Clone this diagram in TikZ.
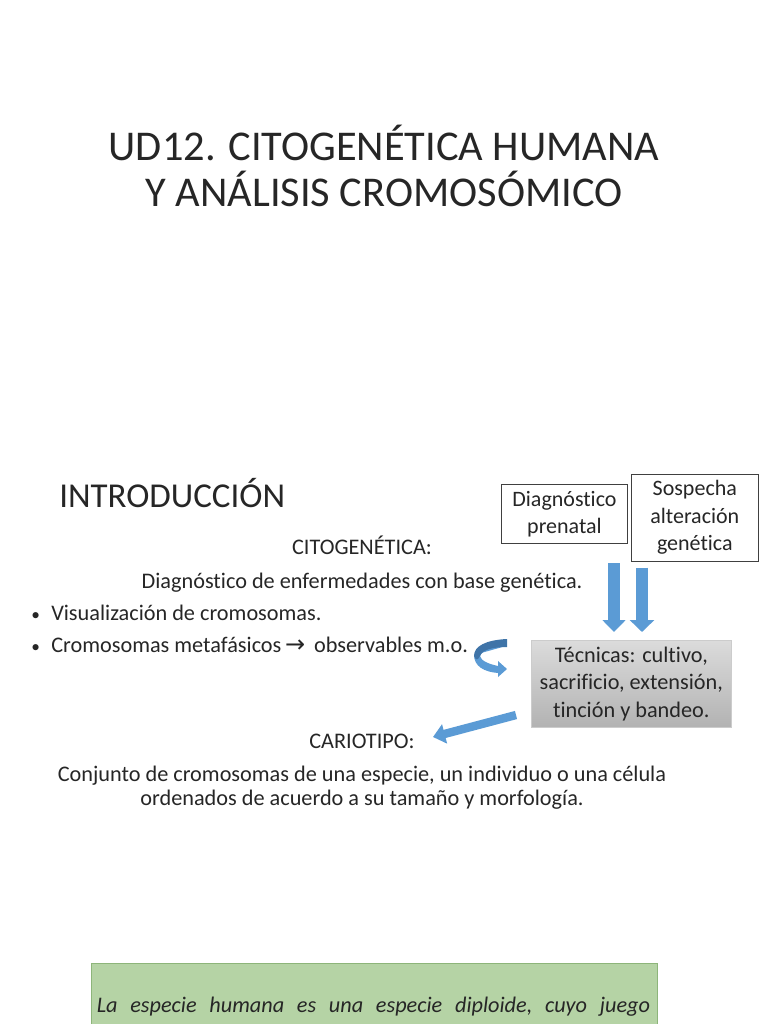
\documentclass[tikz,border=0pt]{standalone}
\usepackage{fontspec}
\setmainfont[Ligatures=NoCommon]{Carlito}
\usetikzlibrary{arrows.meta}
\definecolor{ink}{HTML}{262626}
\definecolor{bluearrow}{HTML}{5B9BD5}
\definecolor{bluedark}{HTML}{3F74A8}
\definecolor{greenbox}{HTML}{B5D3A5}
\definecolor{greenedge}{HTML}{8DB57A}
\tikzset{
  title/.style={font=\fontsize{31.8pt}{35pt}\selectfont,text=ink,align=center,inner sep=0pt},
  heading/.style={font=\fontsize{26.2pt}{30pt}\selectfont,text=ink,inner sep=0pt,anchor=base west},
  body/.style={font=\fontsize{16.7pt}{18pt}\selectfont,text=ink,inner sep=0pt,anchor=base},
  bodyleft/.style={body,anchor=base west},
  boxed/.style={draw=black!75,line width=0.7pt,fill=white,font=\fontsize{16.5pt}{20.6pt}\selectfont,text=ink,align=center,inner sep=0pt,anchor=north west},
  graybox/.style={draw=black!20,line width=0.5pt,top color=black!14,bottom color=black!30,font=\fontsize{16.7pt}{20.6pt}\selectfont,text=ink,align=center,inner sep=0pt,anchor=north west},
  blockarrow/.style={draw=bluearrow,line width=9pt,-{Triangle[width=18pt,length=9pt]}},
}
\begin{document}
\begin{tikzpicture}[x=0.75pt,y=-0.75pt]
\useasboundingbox (0,0) rectangle (768,1024);
\node[title] (t) at (384,166) {UD12. CITOGENÉTICA HUMANA\\Y ANÁLISIS CROMOSÓMICO};
\node[heading] (intro) at (59,507) {INTRODUCCIÓN};
\node[body] (cito) at (362,554) {CITOGENÉTICA:};
\node[body] (diag) at (362,588) {Diagnóstico de enfermedades con base genética.};
\node[bodyleft,font=\fontsize{13pt}{18pt}\selectfont] (b1) at (31,620) {•};
\node[bodyleft] (v) at (51,620) {Visualización de cromosomas.};
\node[bodyleft,font=\fontsize{13pt}{18pt}\selectfont] (b2) at (31,652) {•};
\node[bodyleft] (c) at (51,652) {Cromosomas metafásicos\,{\fontspec{DejaVu Sans}\fontsize{18pt}{18pt}\selectfont→}\, observables m.o.};
\node[body] (cario) at (362,748) {CARIOTIPO:};
\node[body] (conj) at (362,781) {Conjunto de cromosomas de una especie, un individuo o una célula};
\node[body] (ord) at (362,805) {ordenados de acuerdo a su tamaño y morfología.};
\node[boxed,minimum width=94.5pt,minimum height=44.5pt] (dp) at (501,484) {Diagnóstico\\prenatal};
\node[boxed,minimum width=95pt,minimum height=65.5pt] (sos) at (631,473.5) {Sospecha\\alteración\\genética};
\node[graybox,minimum width=150pt,minimum height=65pt] (tec) at (531,640) {Técnicas: cultivo,\\sacrificio, extensión,\\tinción y bandeo.};
\coordinate (a1s) at (614,563); \coordinate (a1e) at (614,632);
\coordinate (a2s) at (642,567.5); \coordinate (a2e) at (642,632);
\coordinate (a3s) at (516,715); \coordinate (a3e) at (433,737);
\draw[blockarrow,-{Triangle[width=17pt,length=9pt]}] (a1s) -- (a1e);
\draw[blockarrow] (a2s) -- (a2e);
\draw[blockarrow,line width=6.3pt,-{Triangle[width=14.5pt,length=9pt]}] (a3s) -- (a3e);
\fill[bluearrow] (506,646) .. controls (490,647) and (481,650) .. (480,656) .. controls (481,661) and (489,664) .. (498,666) -- (498,661) -- (507,669) -- (498,677) -- (498,673) .. controls (484,672) and (474,666) .. (474,655) -- cycle;
\fill[bluedark] (507,639) .. controls (486,640) and (474,646) .. (474,656) .. controls (476,661) and (478,660) .. (480,656) .. controls (482,650) and (492,647) .. (507,647) -- cycle;
\begin{scope}
\clip (0,0) rectangle (768,1024);
\node[draw=greenedge,fill=greenbox,line width=0.5pt,minimum width=424.5pt,minimum height=80pt,anchor=north west,inner sep=0pt] (green) at (91,963) {};
\end{scope}
\node[inner sep=0pt,anchor=base,font=\fontsize{16.7pt}{18pt}\selectfont\itshape,text=black!85,text width=415pt,align=left] (gt) at (373.5,1012) {La\hfill especie\hfill humana\hfill es\hfill una\hfill especie\hfill diploide,\hfill cuyo\hfill juego\par};
\end{tikzpicture}
\end{document}
